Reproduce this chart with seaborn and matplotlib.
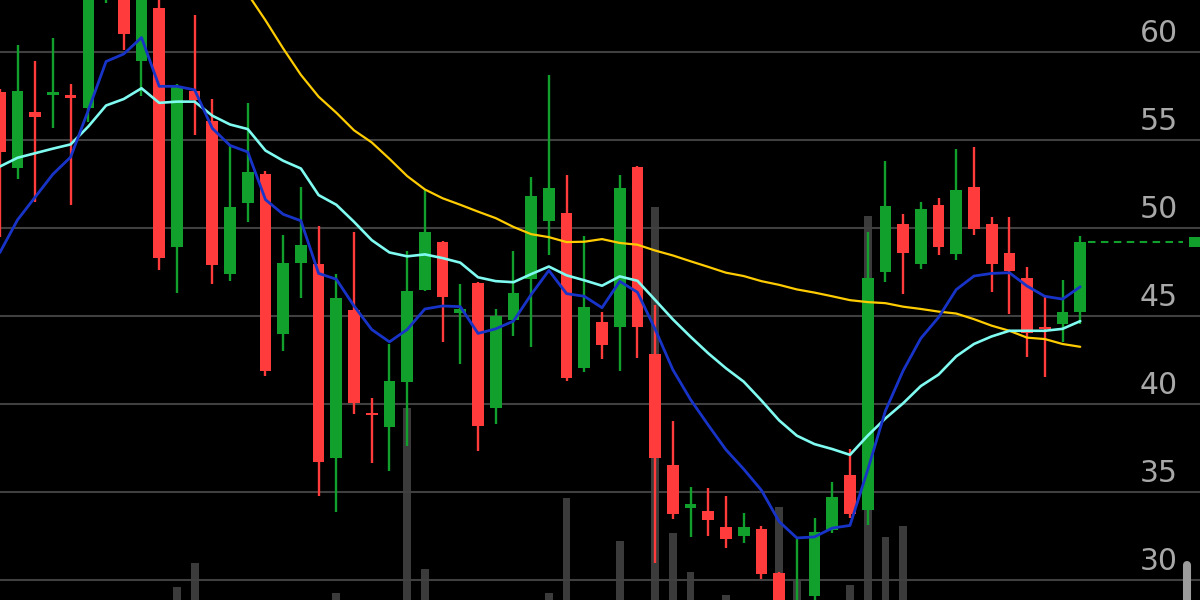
import numpy as np
import pandas as pd
import matplotlib
matplotlib.use("Agg")
import matplotlib.pyplot as plt
import matplotlib.transforms as mtransforms
from matplotlib.lines import Line2D
from matplotlib.patches import Rectangle
import seaborn as sns

# ---------------- data ----------------
opens = [57.7, 53.4, 56.6, 57.55, 57.55, 56.8, 64.0, 64.5, 59.5, 62.5,
         48.9, 57.8, 56.1, 47.4, 51.4, 53.05, 44.0, 48.0, 47.95, 36.95,
         45.35, 39.5, 38.7, 41.25, 46.45, 49.2, 45.15, 46.9, 39.8, 44.8,
         47.1, 50.4, 50.85, 42.05, 44.65, 44.35, 53.45, 42.85, 36.55, 34.1,
         33.9, 33.0, 32.5, 32.9, 30.4, 27.5, 29.1, 32.85, 35.95, 34.0,
         47.5, 50.2, 47.95, 51.3, 48.55, 52.35, 50.2, 48.6, 47.15, 44.4,
         44.55, 45.25]
closes = [54.3, 57.8, 56.3, 57.75, 57.4, 63.8, 65.5, 61.0, 63.5, 48.3,
          58.05, 57.3, 47.9, 51.2, 53.2, 41.9, 48.0, 49.05, 36.7, 46.0,
          40.05, 39.35, 41.3, 46.4, 49.8, 46.1, 45.4, 38.75, 45.0, 46.3,
          51.8, 52.25, 41.5, 45.5, 43.35, 52.3, 44.35, 36.95, 33.75, 34.3,
          33.4, 32.35, 33.0, 30.35, 28.0, 28.5, 32.7, 34.7, 33.75, 47.15,
          51.25, 48.6, 51.1, 48.9, 52.15, 49.95, 47.95, 47.55, 44.05, 44.25,
          45.2, 49.2]
highs = [57.9, 60.4, 59.5, 60.8, 58.2, 64.5, 66.0, 65.0, 64.0, 63.5,
         58.2, 62.1, 57.35, 54.7, 57.1, 53.25, 49.6, 52.35, 50.1, 47.4,
         49.75, 40.35, 43.4, 48.7, 52.15, 49.25, 46.8, 46.95, 45.4, 48.7,
         52.9, 58.7, 53.0, 49.55, 45.2, 53.0, 53.5, 45.6, 39.05, 35.3,
         35.2, 34.8, 33.8, 33.05, 30.45, 32.35, 33.55, 35.55, 37.45, 49.8,
         53.8, 50.8, 51.5, 51.7, 54.5, 54.6, 50.65, 50.65, 47.8, 46.15,
         47.05, 49.55]
lows = [49.5, 52.8, 51.5, 55.7, 51.3, 56.0, 62.8, 60.1, 57.5, 47.6,
        46.3, 55.3, 46.8, 47.0, 50.35, 41.6, 43.0, 46.0, 34.8, 33.85,
        39.45, 36.65, 36.2, 37.6, 46.4, 43.55, 42.3, 37.35, 38.85, 43.85,
        43.25, 48.45, 41.3, 41.8, 42.55, 41.85, 42.6, 30.95, 33.45, 32.45,
        32.5, 31.8, 32.1, 30.05, 27.5, 27.0, 28.5, 32.65, 33.55, 33.1,
        46.95, 46.25, 47.65, 48.45, 48.2, 49.6, 46.35, 45.1, 42.65, 41.55,
        43.55, 44.55]
volumes = [0, 0, 0, 0, 0, 0, 0, 0, 0, 0,
           133, 375, 0, 0, 0, 0, 0, 0, 0, 75,
           0, 0, 0, 1920, 315, 0, 0, 0, 0, 0,
           0, 70, 1024, 0, 0, 593, 0, 3930, 675, 280,
           0, 47, 0, 0, 935, 210, 0, 0, 150, 3840,
           627, 743, 0, 0, 0, 0, 0, 0, 0, 0,
           0, 0]
ma_blue = [48.6, 50.46, 51.76, 53.06, 54.03, 56.7, 59.46, 59.89, 60.82, 58.05,
           58.05, 57.85, 55.66, 54.69, 54.32, 51.61, 50.78, 50.41, 47.42, 47.09,
           45.57, 44.23, 43.53, 44.23, 45.40, 45.57, 45.53, 44.01, 44.27, 44.71,
           46.22, 47.59, 46.27, 46.12, 45.47, 46.97, 46.35, 44.25, 41.95, 40.25,
           38.8, 37.4, 36.3, 35.1, 33.32, 32.39, 32.45, 32.95, 33.10, 36.25,
           39.61, 41.89, 43.73, 44.92, 46.5, 47.27, 47.42, 47.46, 46.70, 46.12,
           45.96, 46.66]
ma_cyan = [53.49, 53.99, 54.25, 54.51, 54.75, 55.77, 56.96, 57.33, 57.94, 57.11,
           57.18, 57.18, 56.38, 55.88, 55.62, 54.40, 53.82, 53.38, 51.87, 51.32,
           50.35, 49.31, 48.61, 48.39, 48.50, 48.29, 48.03, 47.20, 46.98, 46.92,
           47.38, 47.81, 47.31, 47.03, 46.72, 47.25, 47.0, 45.91, 44.81, 43.82,
           42.88, 42.03, 41.27, 40.2, 39.07, 38.20, 37.72, 37.44, 37.11, 38.20,
           39.18, 40.04, 41.02, 41.67, 42.71, 43.41, 43.84, 44.16, 44.16, 44.16,
           44.27, 44.71]
ma_yellow = [np.nan] * 13 + [
           64.6, 63.3, 61.8, 60.2, 58.70, 57.46, 56.55,
           55.55, 54.86, 53.93, 52.95, 52.19, 51.69, 51.32, 50.93, 50.56, 50.06,
           49.65, 49.48, 49.20, 49.22, 49.37, 49.15, 49.05, 48.72, 48.44, 48.11,
           47.79, 47.46, 47.27, 46.98, 46.77, 46.51, 46.33, 46.12, 45.90, 45.79,
           45.73, 45.53, 45.40, 45.25, 45.14, 44.82, 44.45, 44.16, 43.77, 43.69,
           43.41, 43.25]
price_ticks = [30, 35, 40, 45, 50, 55, 60]

# ---------------- style ----------------
GREEN = "#12a02c"
RED = "#ff3b3b"
BLUE = "#1834c8"
CYAN = "#80fbf1"
YELLOW = "#ffcc00"
VOLC = "#3b3b3b"
GRIDC = "#404040"
LABELC = "#a8a8a8"

sns.set_theme(style="dark", rc={"axes.facecolor": "black",
                                "figure.facecolor": "black"})
plt.rcParams["font.family"] = ["DejaVu Sans"]

df = pd.DataFrame({"i": np.arange(len(opens)), "open": opens, "close": closes,
                   "high": highs, "low": lows, "volume": volumes,
                   "ma_blue": ma_blue, "ma_cyan": ma_cyan, "ma_yellow": ma_yellow})
n = len(df)
up = df["close"] >= df["open"]
colors = np.where(up, GREEN, RED)

fig = plt.figure(figsize=(12, 6), dpi=100)
ax_vol = fig.add_axes([0, 0, 1, 1])
ax_vol.set_facecolor("black")
ax = ax_vol.twinx()
ax.patch.set_visible(False)

step_px = 17.712
x0_px = -0.2
xlim = (-x0_px / step_px, (1200 - x0_px) / step_px)

# volume (behind)
ax_vol.bar(df["i"], df["volume"], width=0.44, color=VOLC, linewidth=0)
ax_vol.set_ylim(0, 6000)
ax_vol.set_xlim(*xlim)
ax_vol.set_yticks([])
ax_vol.set_xticks([])

# grid
for t in price_ticks:
    ax.axhline(t, color=GRIDC, lw=1.5, zorder=0)

# candles
ax.vlines(df["i"], df["low"], df["high"], colors=colors, lw=1.7, zorder=2)
body_lo = np.minimum(df["open"], df["close"])
body_h = np.abs(df["close"] - df["open"])
ax.bar(df["i"], body_h, bottom=body_lo, width=0.66, color=colors,
       linewidth=0, zorder=3)

# moving averages
sns.lineplot(data=df, x="i", y="ma_yellow", ax=ax, color=YELLOW, lw=1.6, zorder=4)
sns.lineplot(data=df, x="i", y="ma_cyan", ax=ax, color=CYAN, lw=1.9, zorder=5)
sns.lineplot(data=df, x="i", y="ma_blue", ax=ax, color=BLUE, lw=2.0, zorder=6)

# last price dashed line + tag
last = closes[-1]
ax.plot([n - 1 + 0.45, (1183 - x0_px) / step_px], [last, last], color=GREEN,
        lw=1.5, ls=(0, (3.6, 2.6)), zorder=4)
blend = mtransforms.blended_transform_factory(ax.transAxes, ax.transData)
ax.add_patch(Rectangle((1189 / 1200, last - 0.28), 0.02, 0.56, transform=blend,
                       color=GREEN, linewidth=0, zorder=5))

# price labels (right side, above gridlines)
lab_tr = mtransforms.offset_copy(blend, fig=fig, x=0, y=10, units="dots")
for t in price_ticks:
    ax.text(1178 / 1200, t, f"{t}", transform=lab_tr, ha="right", va="baseline",
            fontsize=21.5, color=LABELC, zorder=7)

ax.set_xlim(*xlim)
ax.set_ylim(30 - 20 / 17.6, 60 + 52 / 17.6)
ax.set_yticks([])
ax.set_xticks([])
ax.set_xlabel("")
ax.set_ylabel("")
for a in (ax, ax_vol):
    for s in a.spines.values():
        s.set_visible(False)
    a.grid(False)

# scroll indicator
fig.add_artist(Line2D([1187 / 1200, 1187 / 1200], [(600 - 565) / 600, -0.05],
                      transform=fig.transFigure, color="#9c9c9c", lw=5.8,
                      solid_capstyle="round"))

fig.savefig("out.png", dpi=100, facecolor="black")
